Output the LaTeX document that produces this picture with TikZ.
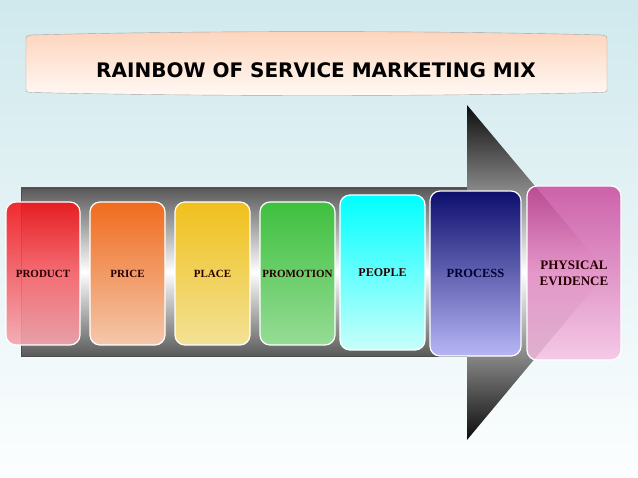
\documentclass[tikz,border=0pt]{standalone}
\usepackage{fontspec}
\setmainfont{Liberation Serif}
\newfontfamily\titlefont{DejaVu Sans}
\usetikzlibrary{shapes,arrows}
\definecolor{bgtop}{RGB}{208,233,237}
\definecolor{bgbot}{RGB}{252,254,254}
\definecolor{titletop}{RGB}{253,212,188}
\definecolor{titlebot}{RGB}{255,249,244}
\definecolor{productTop}{RGB}{242,22,26}
\definecolor{productBot}{RGB}{244,166,176}
\definecolor{priceTop}{RGB}{240,108,30}
\definecolor{priceBot}{RGB}{244,200,172}
\definecolor{placeTop}{RGB}{240,192,28}
\definecolor{placeBot}{RGB}{243,226,150}
\definecolor{promoTop}{RGB}{62,192,62}
\definecolor{promoBot}{RGB}{150,220,150}
\definecolor{peopleTop}{RGB}{0,255,255}
\definecolor{peopleBot}{RGB}{200,255,250}
\definecolor{processTop}{RGB}{14,14,110}
\definecolor{processBot}{RGB}{182,182,246}
\definecolor{evidenceTop}{RGB}{200,62,152}
\definecolor{evidenceBot}{RGB}{246,190,226}
\pgfdeclareverticalshading{bodyshade}{100bp}{color(0bp)=(black!65); color(25bp)=(black!65); color(50bp)=(white); color(75bp)=(black!65); color(100bp)=(black!65)}
\pgfdeclareverticalshading{headshade}{100bp}{color(0bp)=(black); color(25bp)=(black!95); color(50bp)=(white); color(75bp)=(black!95); color(100bp)=(black)}
\tikzset{mixbox/.style={rounded corners=10pt, draw=white, line width=1.2pt, inner sep=0pt, align=center, text=black!85!red, font=\bfseries\fontsize{11}{13}\selectfont}}

\begin{document}
\begin{tikzpicture}[x=1pt,y=1pt]
	\useasboundingbox (0,0) rectangle (638,478);
	\shade[top color=bgtop, bottom color=bgbot] (0,0) rectangle (638,478);
	\shade[draw=gray!70, top color=titletop, bottom color=titlebot] (26,438) .. controls (26,442) .. (32,443) .. controls (200,447.5) and (434,447.5) .. (601,443) .. controls (607,442) .. (607,438) -- (607,390) .. controls (607,386) .. (601,385.5) .. controls (434,381.5) and (200,381.5) .. (32,385.5) .. controls (26,386) .. (26,390) -- cycle;
	\node[font=\titlefont\bfseries\fontsize{20}{23}\selectfont] (title) at (316,408) {RAINBOW OF SERVICE MARKETING MIX};
	\shade[shading=bodyshade, draw=black!70] (21,122) rectangle (468,290);
	\shade[shading=headshade] (467,373) -- (607,206) -- (467,38) -- cycle;
	\node[mixbox, fill opacity=.9, text opacity=1, top color=productTop, bottom color=productBot, minimum width=74pt, minimum height=143pt] (product) at (43,204.5) {PRODUCT};
	\node[mixbox, top color=priceTop, bottom color=priceBot, minimum width=75pt, minimum height=143pt] (price) at (127.5,204.5) {PRICE};
	\node[mixbox, top color=placeTop, bottom color=placeBot, minimum width=75pt, minimum height=143pt] (place) at (212.5,204.5) {PLACE};
	\node[mixbox, top color=promoTop, bottom color=promoBot, minimum width=75pt, minimum height=143pt] (promotion) at (297.5,204.5) {PROMOTION};
	\node[mixbox, top color=peopleTop, bottom color=peopleBot, minimum width=85pt, minimum height=155pt, font=\bfseries\fontsize{12}{14}\selectfont] (people) at (382.5,205.5) {PEOPLE};
	\node[mixbox, top color=processTop, bottom color=processBot, minimum width=91pt, minimum height=165pt, font=\bfseries\fontsize{12.5}{14}\selectfont, text=black!80!blue] (process) at (475.5,204.5) {PROCESS};
	\node[mixbox, fill opacity=.8, text opacity=1, top color=evidenceTop, bottom color=evidenceBot, minimum width=94pt, minimum height=174pt, font=\bfseries\fontsize{13}{16}\selectfont] (evidence) at (574,205) {PHYSICAL\\EVIDENCE};
\end{tikzpicture}
\end{document}
